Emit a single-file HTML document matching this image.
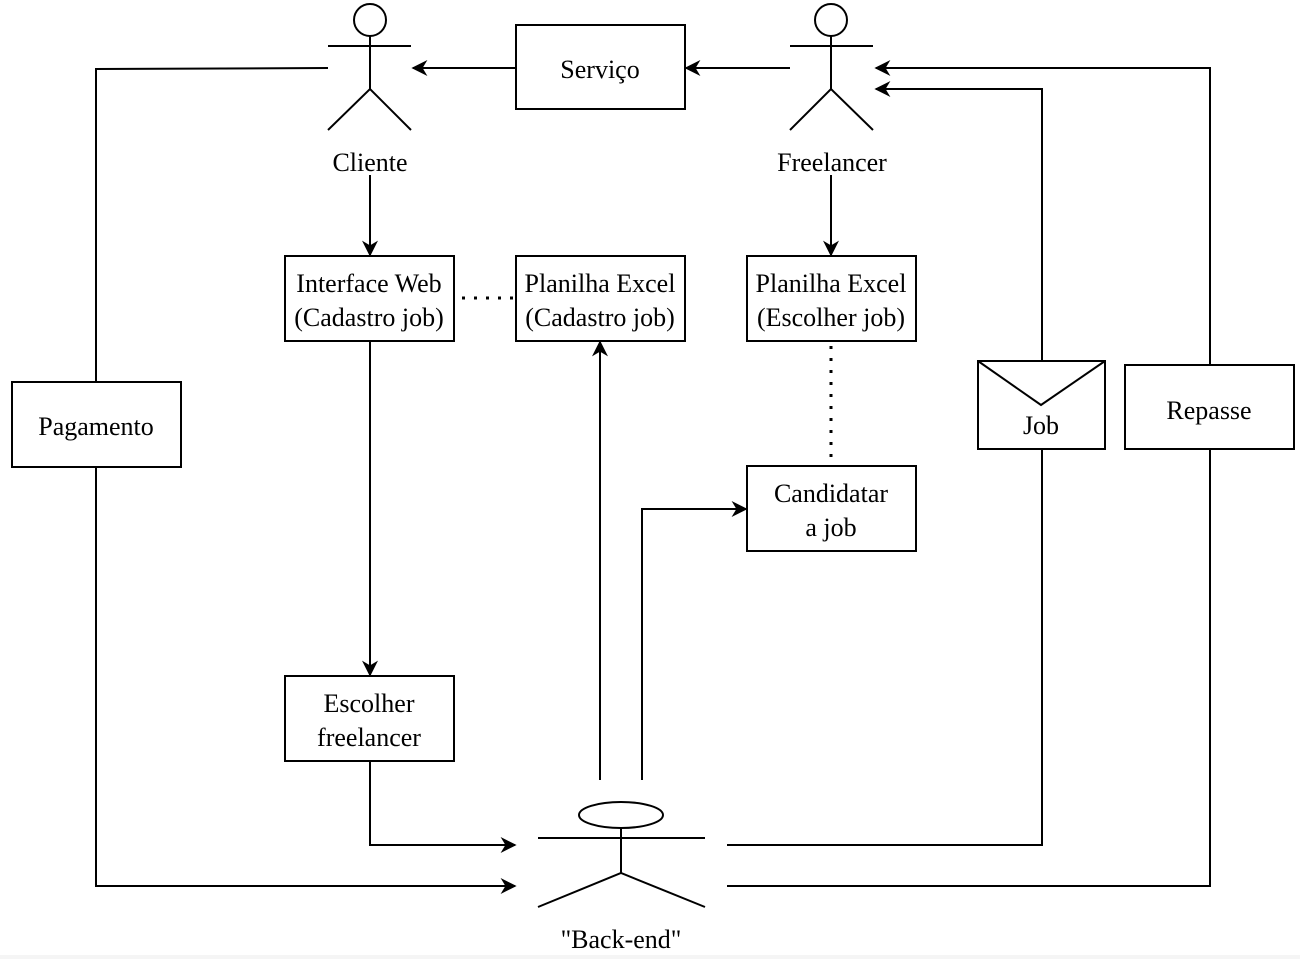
<!DOCTYPE html>
<html><head><meta charset="utf-8"><style>
html,body{margin:0;padding:0;background:#fff;}
svg{display:block;}
text{font-family:"Liberation Serif","Times New Roman",serif;font-size:26px;fill:#000;text-anchor:middle;}
</style></head><body>
<svg width="1300" height="959" viewBox="0 0 1300 959" xmlns="http://www.w3.org/2000/svg">
<defs>
<marker id="a" viewBox="0 0 10 10" refX="9" refY="5" markerWidth="18" markerHeight="16" orient="auto" markerUnits="userSpaceOnUse"><path d="M0,0 L10,5 L0,10 L3,5 Z" fill="#000"/></marker>
</defs>
<rect x="0" y="955" width="1300" height="4" fill="#f5f5f5"/>
<g fill="none" stroke="#000" stroke-width="2">
<circle cx="370" cy="20" r="16" fill="#fff"/>
<line x1="370" y1="36" x2="370" y2="89"/>
<line x1="328" y1="46" x2="411" y2="46"/>
<polyline points="328,130 370,89 411,130"/>
<circle cx="831" cy="20" r="16" fill="#fff"/>
<line x1="831" y1="36" x2="831" y2="89"/>
<line x1="790" y1="46" x2="873" y2="46"/>
<polyline points="790,130 831,89 873,130"/>
<ellipse cx="621" cy="815" rx="42" ry="13"/>
<line x1="621" y1="828" x2="621" y2="873"/>
<line x1="538" y1="838" x2="705" y2="838"/>
<polyline points="538,907 621,873 705,907"/>
<rect x="516" y="25" width="169" height="84"/>
<rect x="285" y="256" width="169" height="85"/>
<rect x="516" y="256" width="169" height="85"/>
<rect x="747" y="256" width="169" height="85"/>
<rect x="747" y="466" width="169" height="85"/>
<rect x="285" y="676" width="169" height="85"/>
<rect x="12" y="382" width="169" height="85"/>
<rect x="1125" y="365" width="169" height="84"/>
<rect x="978" y="361" width="127" height="88"/>
<polyline points="978,361 1041,405 1105,361"/>
<line x1="516" y1="68" x2="413" y2="68" marker-end="url(#a)"/>
<line x1="790" y1="68" x2="686" y2="68" marker-end="url(#a)"/>
<line x1="370" y1="175" x2="370" y2="255" marker-end="url(#a)"/>
<line x1="831" y1="175" x2="831" y2="255" marker-end="url(#a)"/>
<line x1="370" y1="341" x2="370" y2="675" marker-end="url(#a)"/>
<line x1="462" y1="298" x2="516" y2="298" stroke-width="3" stroke-dasharray="3,9"/>
<line x1="831" y1="346" x2="831" y2="466" stroke-width="3" stroke-dasharray="3,9"/>
<polyline points="328,68 96,69 96,382"/>
<polyline points="96,467 96,886 515,886" marker-end="url(#a)"/>
<polyline points="370,761 370,845 515,845" marker-end="url(#a)"/>
<line x1="600" y1="780" x2="600" y2="342" marker-end="url(#a)"/>
<polyline points="642,780 642,509 746,509" marker-end="url(#a)"/>
<polyline points="727,845 1042,845 1042,449"/>
<polyline points="1042,361 1042,89 876,89" marker-end="url(#a)"/>
<polyline points="727,886 1210,886 1210,449"/>
<polyline points="1210,365 1210,68 876,68" marker-end="url(#a)"/>
</g>
<text x="370" y="171">Cliente</text>
<text x="832" y="171">Freelancer</text>
<text x="621" y="948">"Back-end"</text>
<text x="600" y="78">Serviço</text>
<text x="369" y="292">Interface Web</text>
<text x="369" y="326">(Cadastro job)</text>
<text x="600" y="292">Planilha Excel</text>
<text x="600" y="326">(Cadastro job)</text>
<text x="831" y="292">Planilha Excel</text>
<text x="831" y="326">(Escolher job)</text>
<text x="831" y="502">Candidatar</text>
<text x="831" y="536">a job</text>
<text x="369" y="712">Escolher</text>
<text x="369" y="746">freelancer</text>
<text x="96" y="435">Pagamento</text>
<text x="1209" y="419">Repasse</text>
<text x="1041" y="434">Job</text>
</svg>
</body></html>
